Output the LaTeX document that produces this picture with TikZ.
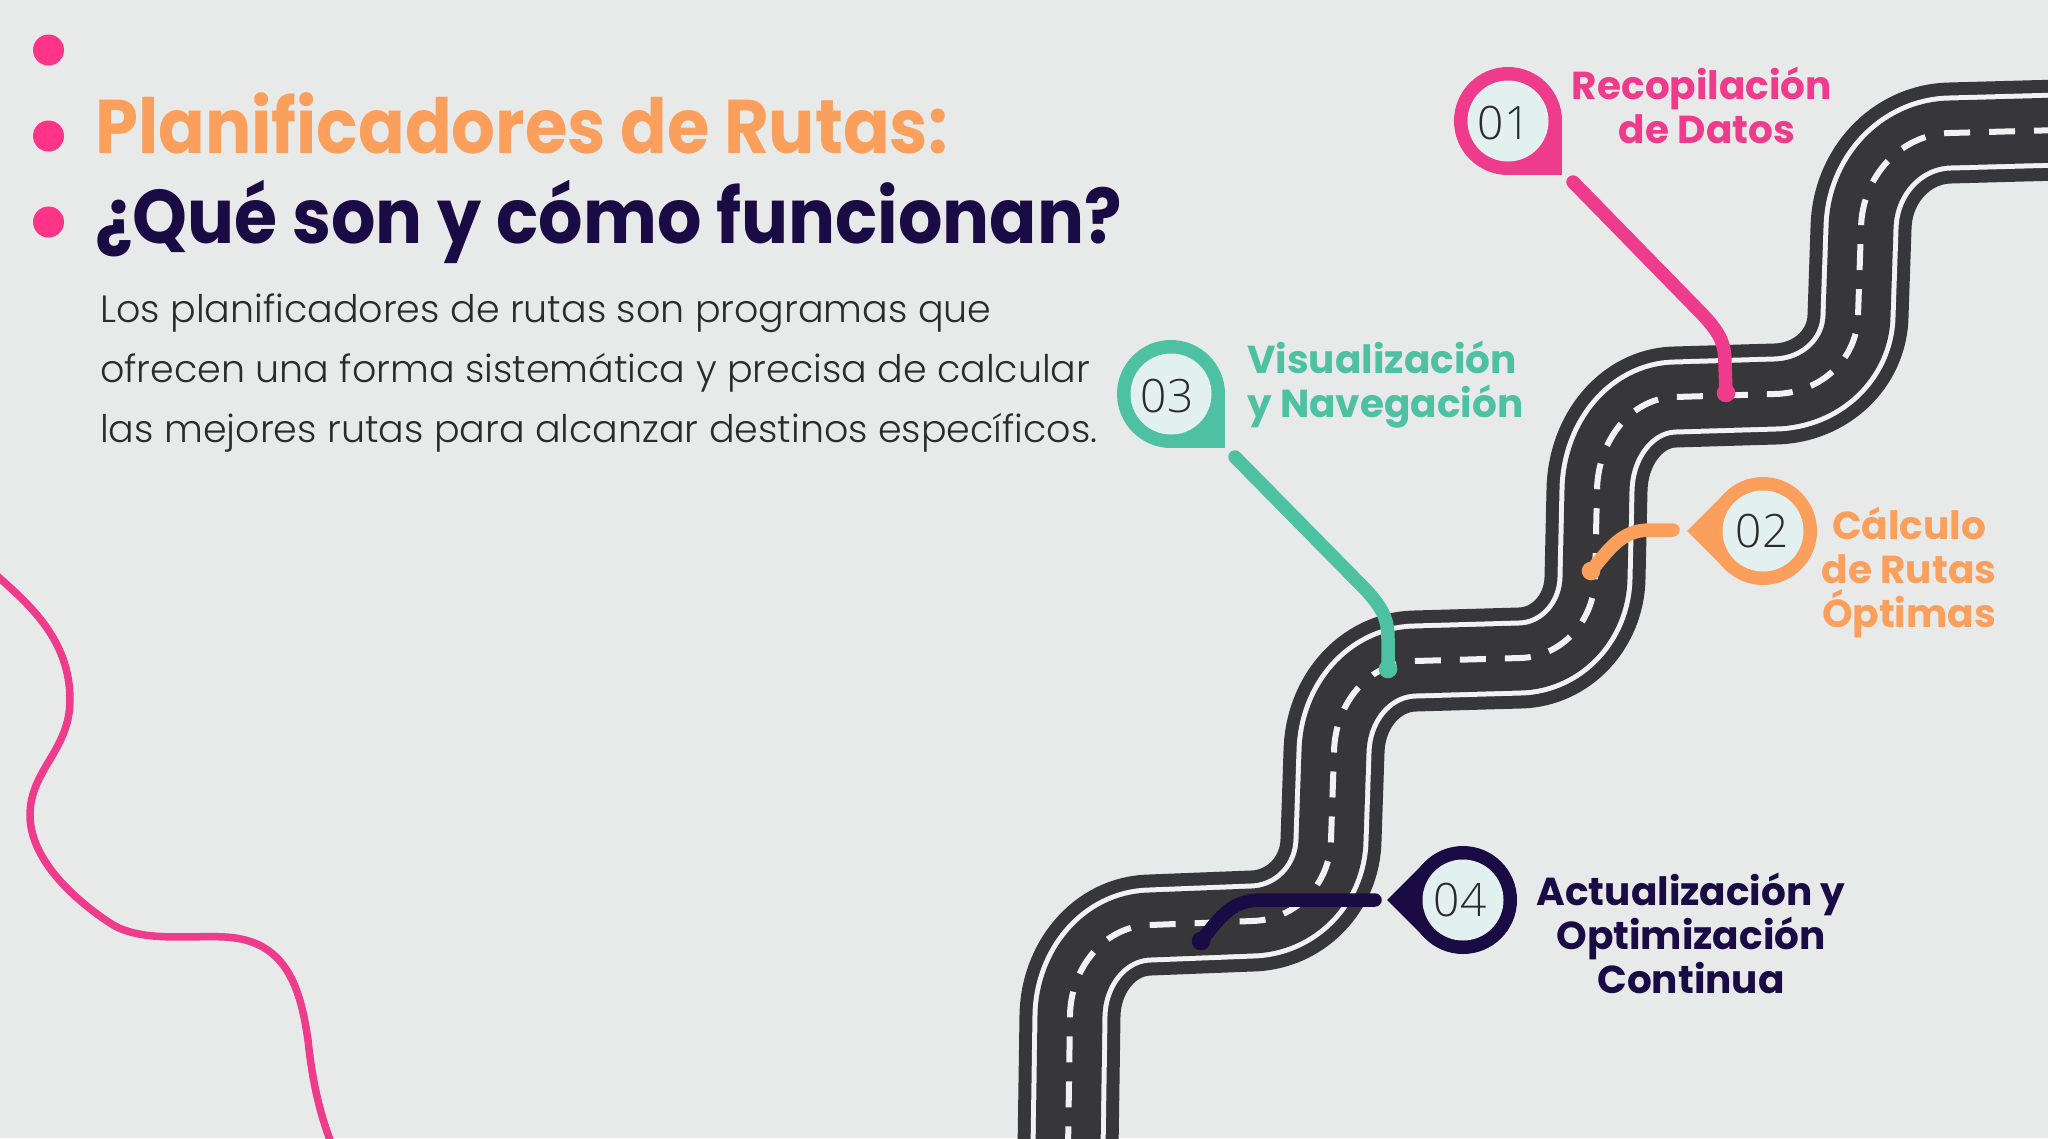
\documentclass[tikz,border=0pt]{standalone}
\usepackage{fontspec}
\usepackage{graphicx}
\setmainfont{Poppins}
\newfontfamily\headf[UprightFont=* Bold]{Poppins}
\newfontfamily\bodyf[UprightFont=* Light]{Poppins}
\newfontfamily\numf[UprightFont=* Light]{Open Sans}
\definecolor{bgc}{HTML}{E8EAE9}
\definecolor{roadc}{HTML}{37373A}
\definecolor{linec}{HTML}{F2F2F2}
\definecolor{orangec}{HTML}{FB9F5C}
\definecolor{navyc}{HTML}{1B0B45}
\definecolor{tealc}{HTML}{4FC1A3}
\definecolor{pinkc}{HTML}{EE3B8B}
\definecolor{bulletc}{HTML}{FF3388}
\definecolor{innerc}{HTML}{E2F0EF}
\definecolor{bodyc}{HTML}{2B2B2B}
\tikzset{
  pinbody/.style={circle,fill=#1,minimum size=108pt,inner sep=0pt},
  pincore/.style={circle,fill=innerc,minimum size=81pt,inner sep=0pt},
  pinnum/.style={inner sep=0pt,text=bodyc,font=\numf\fontsize{46}{46}\selectfont},
  leader/.style={line width=13.5pt,line cap=round,line join=round,draw=#1},
  lab/.style={anchor=base,align=center,font=\headf\fontsize{39}{44}\selectfont,text=#1},
  bullet/.style={circle,fill=bulletc,minimum size=31pt,inner sep=0pt},
  titletext/.style={anchor=base west,inner sep=0pt,text=#1,font=\headf\fontsize{76}{76}\selectfont}
}
\newcommand{\roadpath}{(2060,130) -- (1950,133) .. controls (1901,134) and (1862,176) .. (1861,228) -- (1858,316) .. controls (1857,359) and (1821,393) .. (1775,394) -- (1675,397) .. controls (1632,398) and (1598,439) .. (1597,490) -- (1595,578) .. controls (1594,622) and (1561,657) .. (1520,658) -- (1415,661) .. controls (1370,662) and (1335,702) .. (1334,752) -- (1331,840) .. controls (1330,885) and (1295,920) .. (1252,921) -- (1150,925) .. controls (1104,926) and (1071,968) .. (1070,1015) -- (1068,1150)}
\begin{document}
\begin{tikzpicture}[x=1pt,y=-1pt]
\useasboundingbox (0,0) rectangle (2048,1138);
\fill[bgc] (0,0) rectangle (2048,1138);
% decorative curve
\draw[pinkc,line width=7.5pt] (-5,574) .. controls (30,605) and (70,640) .. (70,700) .. controls (70,750) and (30,770) .. (30,815) .. controls (30,860) and (75,900) .. (110,923) .. controls (140,943) and (190,935) .. (225,937) .. controls (285,940) and (300,985) .. (308,1040) .. controls (312,1080) and (320,1115) .. (332,1145);
% road
\draw[roadc,line width=101pt] \roadpath;
\draw[linec,line width=75pt] \roadpath;
\draw[roadc,line width=65pt] \roadpath;
\draw[linec,line width=6pt,dash pattern=on 26pt off 19pt] \roadpath;
% bullets
\node[bullet] (b1) at (48.5,50) {};
\node[bullet] (b2) at (48.5,136) {};
\node[bullet] (b3) at (48.5,222) {};
% title
\node[titletext=orangec] (t1) at (95,153) {\scalebox{0.905}[1]{Planificadores de Rutas:}};
\node[titletext=navyc] (t2) at (95,243) {\scalebox{0.918}[1]{¿Qué son y cómo funcionan?}};
\node[anchor=base west,inner sep=0pt,text=bodyc,align=left,font=\bodyf\fontsize{38}{60}\selectfont] (body) at (100,442) {Los planificadores de rutas son programas que\\ofrecen una forma sistemática y precisa de calcular\\las mejores rutas para alcanzar destinos específicos.};
% pin 01
\node[pinbody=pinkc] (p1) at (1508,121) {};
\fill[pinkc] (p1.center) rectangle ++(54,54);
\node[pincore] (n1) at (p1.center) {};
\node[pinnum] (m1) at ([shift={(-4,2)}]p1.center) {01};
\coordinate (a1) at (1573,182);
\coordinate (b1e) at (1726,393);
\draw[leader=pinkc] (a1) -- (1704,316) .. controls (1722,336) and (1725,345) .. (1725,365) -- (b1e);
\fill[pinkc] (b1e) circle (9.3);
\node[lab=pinkc] (l1) at (1702,143) {Recopilación\\\hspace*{10pt}de Datos};
% pin 02
\node[pinbody=orangec] (p2) at (1763,531) {};
\fill[orangec] (1687,531) -- ++(38,-38) -- ++(0,76) -- cycle;
\node[pincore] (n2) at (p2.center) {};
\node[pinnum] (m2) at ([shift={(-1,0)}]p2.center) {02};
\coordinate (a2) at (1673,530);
\coordinate (b2e) at (1591,571);
\draw[leader=orangec] (a2) -- (1650,530) .. controls (1622,530) and (1610,548) .. (b2e);
\fill[orangec] (b2e) circle (9.3);
\node[lab=orangec] (l2) at (1909,627) {Cálculo\\de Rutas\\Óptimas};
% pin 03
\node[pinbody=tealc] (p3) at (1171,394) {};
\fill[tealc] (p3.center) rectangle ++(54,54);
\node[pincore] (n3) at (p3.center) {};
\node[pinnum] (m3) at ([shift={(-4,2)}]p3.center) {03};
\coordinate (a3) at (1235,457);
\coordinate (b3e) at (1388,669);
\draw[leader=tealc] (a3) -- (1366,590) .. controls (1384,610) and (1388,620) .. (1388,640) -- (b3e);
\fill[tealc] (b3e) circle (9.3);
\node[lab=tealc,anchor=base west,align=left,inner sep=0pt] (l3) at (1247,417) {Visualización\\y Navegación};
% pin 04
\node[pinbody=navyc] (p4) at (1463,900) {};
\fill[navyc] (1387,900) -- ++(38,-38) -- ++(0,76) -- cycle;
\node[pincore] (n4) at (p4.center) {};
\node[pinnum] (m4) at ([shift={(-3,0)}]p4.center) {04};
\coordinate (a4) at (1375,900);
\coordinate (b4e) at (1201,941);
\draw[leader=navyc] (a4) -- (1262,900) .. controls (1232,900) and (1222,915) .. (b4e);
\fill[navyc] (b4e) circle (9.3);
\node[lab=navyc] (l4) at (1691,993) {Actualización y\\Optimización\\Continua};
\end{tikzpicture}
\end{document}
